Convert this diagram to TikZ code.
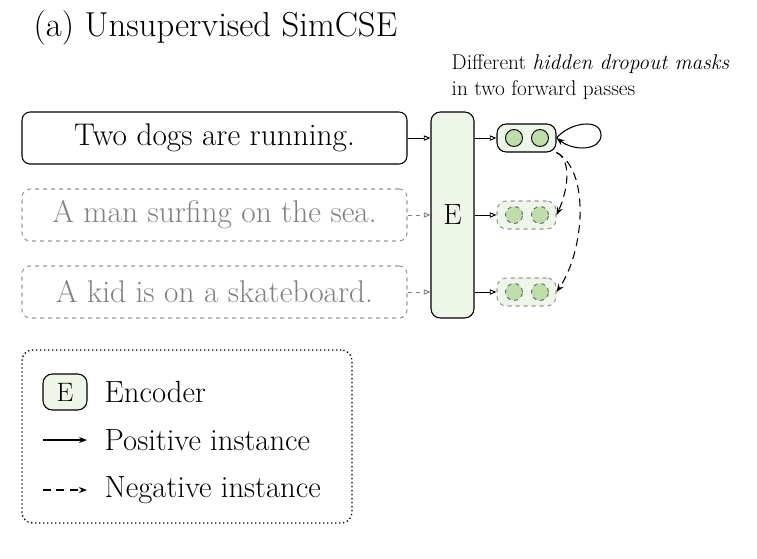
\documentclass[tikz,border=0pt]{standalone}
\usetikzlibrary{arrows.meta}
\definecolor{encfill}{HTML}{EEF5E9}
\definecolor{dotfill}{HTML}{BFDDAA}
\begin{document}
\begin{tikzpicture}[x=0.75pt,y=-0.75pt,
  sent/.style={draw,rounded corners=6pt,minimum width=385*0.75pt,minimum height=52*0.75pt,font=\fontsize{23.5}{26}\selectfont,line width=0.8pt},
  negsent/.style={sent,dashed,draw=gray!80,text=gray},
  inarr/.style={-{Triangle[open,length=5pt,width=4pt]},line width=0.7pt},
  capsule/.style={draw,rounded corners=7pt,minimum width=59*0.75pt,minimum height=28*0.75pt,fill=encfill,line width=0.8pt},
  dot/.style={circle,draw,fill=dotfill,minimum size=17*0.75pt,inner sep=0pt,line width=0.7pt},
  lbl/.style={font=\fontsize{23}{26}\selectfont,anchor=west}]
\useasboundingbox (0,0) rectangle (757,558);
\node[anchor=west,font=\fontsize{26}{30}\selectfont] (title) at (29,28) {(a) Unsupervised SimCSE};
\node[anchor=west,font=\fontsize{16}{19}\selectfont,align=left] (note) at (447,77) {Different \textit{hidden dropout masks}\\in two forward passes};
\node[sent] (s1) at (214.5,138) {Two dogs are running.};
\node[negsent] (s2) at (214.5,215) {A man surfing on the sea.};
\node[negsent] (s3) at (214.5,292) {A kid is on a skateboard.};
\node[draw,rounded corners=7pt,fill=encfill,minimum width=43*0.75pt,minimum height=206*0.75pt,line width=0.8pt,font=\fontsize{22}{25}\selectfont] (E) at (452.5,215) {E};
\node[capsule] (c1) at (526.5,138) {};
\node[capsule,dashed,draw=gray!80] (c2) at (526.5,215) {};
\node[capsule,dashed,draw=gray!80] (c3) at (526.5,292) {};
\node[dot] (a1) at (514,138) {};
\node[dot] (b1) at (540,138) {};
\foreach \c/\y in {2/215,3/292}{
  \node[dot,dashed,draw=black!60] (a\c) at (514,\y) {};
  \node[dot,dashed,draw=black!60] (b\c) at (540,\y) {};
}
\draw[inarr] (s1.east) -- (s1.east -| E.west);
\draw[inarr,gray,dashed] (s2.east) -- (s2.east -| E.west);
\draw[inarr,gray,dashed] (s3.east) -- (s3.east -| E.west);
\draw[inarr] (c1.west -| E.east) -- (c1.west);
\draw[inarr] (c2.west -| E.east) -- (c2.west);
\draw[inarr] (c3.west -| E.east) -- (c3.west);
\coordinate (loopr) at (601,135);
\draw[-{Stealth[length=6pt]},line width=0.8pt] (c1.east) .. controls (570,122) and (601,118) .. (loopr) .. controls (601,150) and (575,152) .. (c1.east);
\draw[-{Stealth[length=6pt]},dashed,dash pattern=on 6pt off 4pt,line width=0.8pt] (c1.south east) .. controls (572,160) and (568,190) .. (c2.east);
\draw[-{Stealth[length=6pt]},dashed,dash pattern=on 6pt off 4pt,line width=0.8pt] (c1.south east) .. controls (590,170) and (585,250) .. (c3.east);
% legend
\node[draw,dotted,line width=1pt,rounded corners=8pt,minimum width=330*0.75pt,minimum height=173*0.75pt] (leg) at (187,436.5) {};
\node[draw,rounded corners=7pt,fill=encfill,minimum width=44*0.75pt,minimum height=36*0.75pt,line width=0.8pt,font=\fontsize{20}{23}\selectfont] (le) at (65,392) {E};
\node[lbl] (lt1) at (100,392) {Encoder};
\coordinate (p0) at (43,440); \coordinate (p1) at (87,440);
\draw[-{Stealth[length=6pt]},line width=0.8pt] (p0) -- (p1);
\node[lbl] (lt2) at (100,440) {Positive instance};
\coordinate (n0) at (43,490); \coordinate (n1) at (87,490);
\draw[-{Stealth[length=6pt]},dashed,dash pattern=on 6pt off 4pt,line width=0.8pt] (n0) -- (n1);
\node[lbl] (lt3) at (100,490) {Negative instance};
\end{tikzpicture}
\end{document}
